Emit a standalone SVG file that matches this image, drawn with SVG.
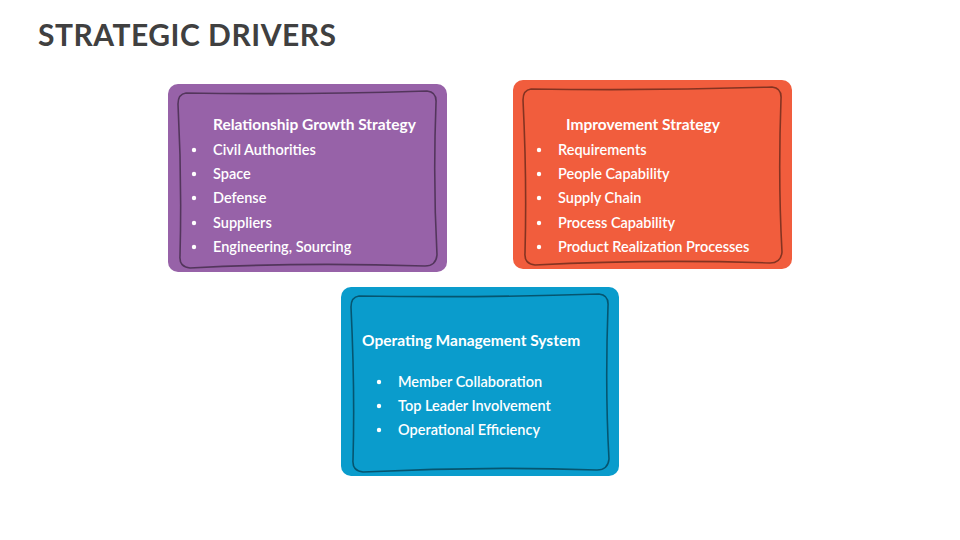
<svg xmlns="http://www.w3.org/2000/svg" width="960" height="540" viewBox="0 0 960 540">
<style>
.h{font-family:Lato,"Open Sans",sans-serif;font-weight:700;font-size:15.5px;fill:#fff}
.i{font-family:Lato,"Open Sans",sans-serif;font-weight:600;font-size:14.5px;fill:#fff}
.b{fill:#fff}
.in{fill:none;stroke:#000;stroke-opacity:0.45;stroke-width:1.6}
</style>
<rect width="960" height="540" fill="#fff"/>
<text x="38" y="46" font-family="Lato,'Open Sans',sans-serif" font-weight="700" font-size="30" fill="#404040" textLength="298">STRATEGIC DRIVERS</text>
<g id="relationship">
<rect x="168" y="84" width="279" height="188" rx="10" fill="#9762a8"/>
<path class="in" d="M186 93 Q300 95 427 91 Q437 92 436 103 Q433 180 437 255 Q436 266 425 266 Q300 262 190 268 Q179 267 180 256 Q182 180 178 104 Q178 94 186 93 Z"/>
<text class="h" x="213" y="130">Relationship Growth Strategy</text>
<g class="b"><circle cx="194" cy="150" r="2.2"/><circle cx="194" cy="174" r="2.2"/><circle cx="194" cy="198" r="2.2"/><circle cx="194" cy="223" r="2.2"/><circle cx="194" cy="247" r="2.2"/></g>
<text class="i" x="213" y="155">Civil Authorities</text>
<text class="i" x="213" y="179">Space</text>
<text class="i" x="213" y="203">Defense</text>
<text class="i" x="213" y="228">Suppliers</text>
<text class="i" x="213" y="252">Engineering, Sourcing</text>
</g>
<g id="improvement">
<rect x="513" y="80" width="279" height="189" rx="10" fill="#f15d3d"/>
<path class="in" d="M531 89 Q650 91 772 87 Q782 88 781 99 Q778 180 782 252 Q781 263 770 263 Q650 259 535 265 Q524 264 525 253 Q527 180 523 100 Q523 90 531 89 Z"/>
<text class="h" x="566" y="130">Improvement Strategy</text>
<g class="b"><circle cx="539" cy="150" r="2.2"/><circle cx="539" cy="174" r="2.2"/><circle cx="539" cy="198" r="2.2"/><circle cx="539" cy="223" r="2.2"/><circle cx="539" cy="247" r="2.2"/></g>
<text class="i" x="558" y="155">Requirements</text>
<text class="i" x="558" y="179">People Capability</text>
<text class="i" x="558" y="203">Supply Chain</text>
<text class="i" x="558" y="228">Process Capability</text>
<text class="i" x="558" y="252">Product Realization Processes</text>
</g>
<g id="operating">
<rect x="341" y="287" width="278" height="189" rx="10" fill="#0a9ccc"/>
<path class="in" d="M359 296 Q480 298 599 294 Q609 295 608 306 Q605 390 609 459 Q608 470 597 470 Q480 466 363 472 Q352 471 353 460 Q355 390 351 307 Q351 297 359 296 Z"/>
<text class="h" x="362" y="346">Operating Management System</text>
<g class="b"><circle cx="379" cy="382" r="2.2"/><circle cx="379" cy="406" r="2.2"/><circle cx="379" cy="430" r="2.2"/></g>
<text class="i" x="398" y="387">Member Collaboration</text>
<text class="i" x="398" y="411">Top Leader Involvement</text>
<text class="i" x="398" y="435">Operational Efficiency</text>
</g>
<g id="connectors"/>
</svg>
